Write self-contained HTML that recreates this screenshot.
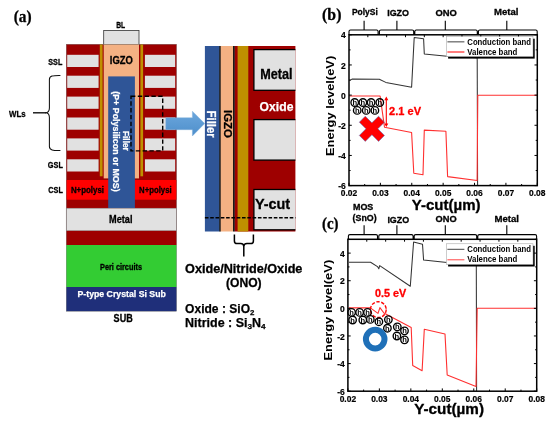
<!DOCTYPE html>
<html lang="en"><head><meta charset="utf-8"><title>Figure</title>
<style>html,body{margin:0;padding:0;background:#fff}svg{display:block}</style></head>
<body><svg width="550" height="422" viewBox="0 0 550 422">
<rect width="550" height="422" fill="#fff"/>
<rect x="66.20" y="44.20" width="110.40" height="200.80" fill="#9E0000" />
<rect x="103.70" y="30.50" width="35.30" height="13.90" fill="#E1E1E1" stroke="#333" stroke-width="0.8" />
<rect x="67.20" y="54.80" width="31.40" height="12.20" fill="#E1E1E1" />
<rect x="144.90" y="54.80" width="30.30" height="12.20" fill="#E1E1E1" />
<rect x="67.20" y="75.70" width="31.40" height="12.20" fill="#E1E1E1" />
<rect x="144.90" y="75.70" width="30.30" height="12.20" fill="#E1E1E1" />
<rect x="67.20" y="96.60" width="31.40" height="12.20" fill="#E1E1E1" />
<rect x="144.90" y="96.60" width="30.30" height="12.20" fill="#E1E1E1" />
<rect x="67.20" y="117.50" width="31.40" height="12.20" fill="#E1E1E1" />
<rect x="144.90" y="117.50" width="30.30" height="12.20" fill="#E1E1E1" />
<rect x="67.20" y="138.40" width="31.40" height="12.20" fill="#E1E1E1" />
<rect x="144.90" y="138.40" width="30.30" height="12.20" fill="#E1E1E1" />
<rect x="67.20" y="159.30" width="31.40" height="12.20" fill="#E1E1E1" />
<rect x="144.90" y="159.30" width="30.30" height="12.20" fill="#E1E1E1" />
<rect x="99.80" y="44.20" width="2.80" height="132.10" fill="#BF9000" />
<rect x="140.40" y="44.20" width="2.70" height="132.10" fill="#BF9000" />
<rect x="103.70" y="44.20" width="35.30" height="134.20" fill="#F4B183" />
<rect x="66.20" y="180.00" width="110.40" height="19.70" fill="#FF0000" />
<rect x="108.20" y="76.40" width="26.70" height="131.80" fill="#2F5597" />
<rect x="66.20" y="208.20" width="110.40" height="22.50" fill="#E1E1E1" stroke="#8a8a8a" stroke-width="0.5" />
<rect x="66.20" y="245.00" width="110.40" height="42.00" fill="#33CC33" />
<rect x="66.20" y="287.00" width="110.40" height="24.20" fill="#1F2F7A" />
<rect x="66.20" y="44.20" width="110.40" height="267.00" fill="none" stroke="#6b6b6b" stroke-width="0.4" />
<text x="13.70" y="22.40" font-family='"Liberation Serif", serif' font-size="16.60" font-weight="bold" fill="#000" textLength="17.90" lengthAdjust="spacingAndGlyphs"  stroke="#000" stroke-width="0.3" stroke-linejoin="round">(a)</text>
<text x="116.20" y="28.20" font-family='"Liberation Sans", sans-serif' font-size="8.78" font-weight="bold" fill="#000" textLength="9.00" lengthAdjust="spacingAndGlyphs"  stroke="#000" stroke-width="0.3" stroke-linejoin="round">BL</text>
<text x="48.30" y="65.00" font-family='"Liberation Sans", sans-serif' font-size="9.05" font-weight="bold" fill="#000" textLength="14.00" lengthAdjust="spacingAndGlyphs"  stroke="#000" stroke-width="0.3" stroke-linejoin="round">SSL</text>
<text x="109.80" y="64.20" font-family='"Liberation Sans", sans-serif' font-size="10.70" font-weight="bold" fill="#000" textLength="23.00" lengthAdjust="spacingAndGlyphs"  stroke="#000" stroke-width="0.3" stroke-linejoin="round">IGZO</text>
<text x="9.00" y="116.50" font-family='"Liberation Sans", sans-serif' font-size="9.47" font-weight="bold" fill="#000" textLength="16.60" lengthAdjust="spacingAndGlyphs"  stroke="#000" stroke-width="0.3" stroke-linejoin="round">WLs</text>
<text x="47.80" y="168.40" font-family='"Liberation Sans", sans-serif' font-size="9.05" font-weight="bold" fill="#000" textLength="15.10" lengthAdjust="spacingAndGlyphs"  stroke="#000" stroke-width="0.3" stroke-linejoin="round">GSL</text>
<text x="48.30" y="192.90" font-family='"Liberation Sans", sans-serif' font-size="9.05" font-weight="bold" fill="#000" textLength="14.60" lengthAdjust="spacingAndGlyphs"  stroke="#000" stroke-width="0.3" stroke-linejoin="round">CSL</text>
<text x="70.90" y="193.00" font-family='"Liberation Sans", sans-serif' font-size="8.78" font-weight="bold" fill="#000" textLength="33.10" lengthAdjust="spacingAndGlyphs"  stroke="#000" stroke-width="0.3" stroke-linejoin="round">N+polysi</text>
<text x="139.10" y="193.00" font-family='"Liberation Sans", sans-serif' font-size="8.78" font-weight="bold" fill="#000" textLength="32.50" lengthAdjust="spacingAndGlyphs"  stroke="#000" stroke-width="0.3" stroke-linejoin="round">N+polysi</text>
<text x="109.10" y="223.00" font-family='"Liberation Sans", sans-serif' font-size="10.43" font-weight="bold" fill="#000" textLength="23.40" lengthAdjust="spacingAndGlyphs"  stroke="#000" stroke-width="0.3" stroke-linejoin="round">Metal</text>
<text x="100.00" y="269.80" font-family='"Liberation Sans", sans-serif' font-size="8.50" font-weight="bold" fill="#000" textLength="42.00" lengthAdjust="spacingAndGlyphs"  stroke="#000" stroke-width="0.3" stroke-linejoin="round">Peri circuits</text>
<text x="77.50" y="297.40" font-family='"Liberation Sans", sans-serif' font-size="9.33" font-weight="bold" fill="#fff" textLength="88.30" lengthAdjust="spacingAndGlyphs"  stroke="#fff" stroke-width="0.25" stroke-linejoin="round">P-type Crystal Si Sub</text>
<text x="113.60" y="321.60" font-family='"Liberation Sans", sans-serif' font-size="10.43" font-weight="bold" fill="#000" textLength="19.10" lengthAdjust="spacingAndGlyphs"  stroke="#000" stroke-width="0.3" stroke-linejoin="round">SUB</text>
<text transform="translate(123.40,131.00) rotate(90)" x="0" y="0" font-family='"Liberation Sans", sans-serif' font-size="8.50" font-weight="bold" fill="#fff" stroke="#fff" stroke-width="0.25" textLength="19.80" lengthAdjust="spacingAndGlyphs">Filler</text>
<text transform="translate(112.70,91.20) rotate(90)" x="0" y="0" font-family='"Liberation Sans", sans-serif' font-size="8.78" font-weight="bold" fill="#fff" stroke="#fff" stroke-width="0.25" textLength="100.40" lengthAdjust="spacingAndGlyphs">(P+ Polysilicon or MOS)</text>
<path d="M33,112.8 H46" stroke="#111" stroke-width="1.4" fill="none"/>
<path d="M60.4,75.4 C54,75.6 49.4,75.4 49.4,79.5 V108 C49.4,111 47.5,112.8 45.2,112.8 C47.5,112.8 49.4,114.6 49.4,117.6 V146.5 C49.4,150.6 54,150.4 60.4,150.6" stroke="#111" stroke-width="1.05" fill="none"/>
<rect x="131" y="96.3" width="31.7" height="54.6" fill="none" stroke="#000" stroke-width="1.4" stroke-dasharray="4.4 2.4"/>
<linearGradient id="ag" x1="0" y1="0" x2="0" y2="1"><stop offset="0" stop-color="#6CA7DD"/><stop offset="1" stop-color="#4E8FCB"/></linearGradient>
<path d="M165.8,117.7 H192.4 V111.2 L204.7,123.6 L192.4,136 V129.7 H165.8 Z" fill="url(#ag)" stroke="#7FAEDB" stroke-width="0.4"/>
<rect x="204.90" y="46.00" width="14.70" height="185.50" fill="#2F5597" />
<rect x="219.30" y="46.00" width="1.60" height="185.50" fill="#000" />
<rect x="220.70" y="46.00" width="12.60" height="185.50" fill="#F4B183" />
<rect x="233.10" y="46.00" width="1.70" height="185.50" fill="#000" />
<rect x="234.80" y="46.00" width="60.60" height="185.50" fill="#9E0000" />
<rect x="237.60" y="46.00" width="10.70" height="185.50" fill="#BF9000" />
<clipPath id="pc"><rect x="204.9" y="46" width="90.5" height="185.5"/></clipPath>
<rect x="253.9" y="49.6" width="50" height="40.70" fill="#E1E1E1" stroke="#000" stroke-width="1.3" clip-path="url(#pc)"/>
<rect x="253.9" y="119.6" width="50" height="40.50" fill="#E1E1E1" stroke="#000" stroke-width="1.3" clip-path="url(#pc)"/>
<rect x="253.9" y="189.5" width="50" height="40.30" fill="#E1E1E1" stroke="#000" stroke-width="1.3" clip-path="url(#pc)"/>
<path d="M204.9,217.8 H295.4" stroke="#000" stroke-width="1.5" stroke-dasharray="3.6 1.7" fill="none"/>
<text x="260.30" y="78.90" font-family='"Liberation Sans", sans-serif' font-size="13.99" font-weight="bold" fill="#000" textLength="32.30" lengthAdjust="spacingAndGlyphs"  stroke="#000" stroke-width="0.3" stroke-linejoin="round">Metal</text>
<text x="259.60" y="111.40" font-family='"Liberation Sans", sans-serif' font-size="13.44" font-weight="bold" fill="#fff" textLength="33.80" lengthAdjust="spacingAndGlyphs"  stroke="#fff" stroke-width="0.25" stroke-linejoin="round">Oxide</text>
<text x="254.90" y="208.70" font-family='"Liberation Sans", sans-serif' font-size="14.95" font-weight="bold" fill="#000" textLength="35.30" lengthAdjust="spacingAndGlyphs"  stroke="#000" stroke-width="0.3" stroke-linejoin="round">Y-cut</text>
<text transform="translate(206.80,110.60) rotate(90)" x="0" y="0" font-family='"Liberation Sans", sans-serif' font-size="12.07" font-weight="bold" fill="#fff" stroke="#fff" stroke-width="0.25" textLength="27.10" lengthAdjust="spacingAndGlyphs">Filler</text>
<text transform="translate(223.50,110.00) rotate(90)" x="0" y="0" font-family='"Liberation Sans", sans-serif' font-size="11.80" font-weight="bold" fill="#000" stroke="#000" stroke-width="0.3" textLength="28.00" lengthAdjust="spacingAndGlyphs">IGZO</text>
<path d="M234.4,234.6 V241 Q234.4,243.6 237,243.6 H240.6 Q243.8,243.6 243.8,246.5 Q243.8,243.6 247,243.6 H250.8 Q253.4,243.6 253.4,241 V234.6 M243.8,245.5 V256.5" stroke="#000" stroke-width="1.5" fill="none"/>
<text x="185.10" y="272.80" font-family='"Liberation Sans", sans-serif' font-size="11.93" font-weight="bold" fill="#000" textLength="117.30" lengthAdjust="spacingAndGlyphs"  stroke="#000" stroke-width="0.3" stroke-linejoin="round">Oxide/Nitride/Oxide</text>
<text x="226.00" y="287.20" font-family='"Liberation Sans", sans-serif' font-size="12.35" font-weight="bold" fill="#000" textLength="35.60" lengthAdjust="spacingAndGlyphs"  stroke="#000" stroke-width="0.3" stroke-linejoin="round">(ONO)</text>
<text x="185.10" y="312.70" font-family='"Liberation Sans", sans-serif' font-size="12.21" font-weight="bold" fill="#000" textLength="69.30" lengthAdjust="spacingAndGlyphs"  stroke="#000" stroke-width="0.25" stroke-linejoin="round">Oxide : SiO<tspan font-size="8" dy="2">2</tspan></text>
<text x="185.10" y="327.20" font-family='"Liberation Sans", sans-serif' font-size="12.21" font-weight="bold" fill="#000" textLength="80.50" lengthAdjust="spacingAndGlyphs"  stroke="#000" stroke-width="0.25" stroke-linejoin="round">Nitride : Si<tspan font-size="8" dy="2">3</tspan><tspan dy="-2">N</tspan><tspan font-size="8" dy="2">4</tspan></text>
<polyline points="349.6,80.6 352.0,79.1 379.3,79.3 385.8,82.4 411.6,87.2 414.2,37.6 423.6,38.7 424.3,54.0 447.0,56.2 477.2,57.8 477.6,185.6" fill="none" stroke="#333" stroke-width="1.05" stroke-linejoin="round"/>
<polyline points="349.5,96.0 380.1,96.0 384.5,127.2 411.6,132.5 413.8,173.3 423.0,174.8 424.3,130.1 445.9,131.2 447.6,176.6 477.1,180.5 477.8,95.3 537.0,95.3" fill="none" stroke="#ff3030" stroke-width="1.1" stroke-linejoin="round"/>
<rect x="349.0" y="34.8" width="188.30" height="150.80" fill="none" stroke="#000" stroke-width="1.5"/>
<path d="M349.00,185.6 v-2.8 M364.69,185.6 v-1.6 M380.38,185.6 v-2.8 M396.07,185.6 v-1.6 M411.77,185.6 v-2.8 M427.46,185.6 v-1.6 M443.15,185.6 v-2.8 M458.84,185.6 v-1.6 M474.53,185.6 v-2.8 M490.22,185.6 v-1.6 M505.92,185.6 v-2.8 M521.61,185.6 v-1.6 M537.30,185.6 v-2.8 M367.83,34.8 v2.4 M386.66,34.8 v2.4 M405.49,34.8 v2.4 M424.32,34.8 v2.4 M443.15,34.8 v2.4 M461.98,34.8 v2.4 M480.81,34.8 v2.4 M499.64,34.8 v2.4 M518.47,34.8 v2.4 M349.0,185.60 h2.8 M537.3,185.60 h-2.8 M349.0,170.52 h1.6 M537.3,170.52 h-1.6 M349.0,155.44 h2.8 M537.3,155.44 h-2.8 M349.0,140.36 h1.6 M537.3,140.36 h-1.6 M349.0,125.28 h2.8 M537.3,125.28 h-2.8 M349.0,110.20 h1.6 M537.3,110.20 h-1.6 M349.0,95.12 h2.8 M537.3,95.12 h-2.8 M349.0,80.04 h1.6 M537.3,80.04 h-1.6 M349.0,64.96 h2.8 M537.3,64.96 h-2.8 M349.0,49.88 h1.6 M537.3,49.88 h-1.6 M349.0,34.80 h2.8 M537.3,34.80 h-2.8" stroke="#000" stroke-width="1" fill="none"/>
<text x="345.80" y="189.20" text-anchor="end" font-family='"Liberation Sans", sans-serif' font-size="8.5" font-weight="bold" fill="#000" stroke="#000" stroke-width="0.2">-6</text>
<text x="345.80" y="159.04" text-anchor="end" font-family='"Liberation Sans", sans-serif' font-size="8.5" font-weight="bold" fill="#000" stroke="#000" stroke-width="0.2">-4</text>
<text x="345.80" y="128.88" text-anchor="end" font-family='"Liberation Sans", sans-serif' font-size="8.5" font-weight="bold" fill="#000" stroke="#000" stroke-width="0.2">-2</text>
<text x="345.80" y="98.72" text-anchor="end" font-family='"Liberation Sans", sans-serif' font-size="8.5" font-weight="bold" fill="#000" stroke="#000" stroke-width="0.2">0</text>
<text x="345.80" y="68.56" text-anchor="end" font-family='"Liberation Sans", sans-serif' font-size="8.5" font-weight="bold" fill="#000" stroke="#000" stroke-width="0.2">2</text>
<text x="345.80" y="38.40" text-anchor="end" font-family='"Liberation Sans", sans-serif' font-size="8.5" font-weight="bold" fill="#000" stroke="#000" stroke-width="0.2">4</text>
<text x="349.00" y="196.40" text-anchor="middle" font-family='"Liberation Sans", sans-serif' font-size="8.5" font-weight="bold" fill="#000" stroke="#000" stroke-width="0.2" textLength="16.4" lengthAdjust="spacingAndGlyphs">0.02</text>
<text x="380.38" y="196.40" text-anchor="middle" font-family='"Liberation Sans", sans-serif' font-size="8.5" font-weight="bold" fill="#000" stroke="#000" stroke-width="0.2" textLength="16.4" lengthAdjust="spacingAndGlyphs">0.03</text>
<text x="411.77" y="196.40" text-anchor="middle" font-family='"Liberation Sans", sans-serif' font-size="8.5" font-weight="bold" fill="#000" stroke="#000" stroke-width="0.2" textLength="16.4" lengthAdjust="spacingAndGlyphs">0.04</text>
<text x="443.15" y="196.40" text-anchor="middle" font-family='"Liberation Sans", sans-serif' font-size="8.5" font-weight="bold" fill="#000" stroke="#000" stroke-width="0.2" textLength="16.4" lengthAdjust="spacingAndGlyphs">0.05</text>
<text x="474.53" y="196.40" text-anchor="middle" font-family='"Liberation Sans", sans-serif' font-size="8.5" font-weight="bold" fill="#000" stroke="#000" stroke-width="0.2" textLength="16.4" lengthAdjust="spacingAndGlyphs">0.06</text>
<text x="505.92" y="196.40" text-anchor="middle" font-family='"Liberation Sans", sans-serif' font-size="8.5" font-weight="bold" fill="#000" stroke="#000" stroke-width="0.2" textLength="16.4" lengthAdjust="spacingAndGlyphs">0.07</text>
<text x="537.30" y="196.40" text-anchor="middle" font-family='"Liberation Sans", sans-serif' font-size="8.5" font-weight="bold" fill="#000" stroke="#000" stroke-width="0.2" textLength="16.4" lengthAdjust="spacingAndGlyphs">0.08</text>
<polyline points="349.0,262.3 370.6,262.3 377.5,266.6 378.8,268.8 379.7,265.6 410.3,286.3 413.6,242.0 422.5,244.2 423.6,260.1 444.7,262.2 476.3,265.4 476.6,391.0" fill="none" stroke="#333" stroke-width="1.05" stroke-linejoin="round"/>
<polyline points="349.0,307.9 370.3,307.9 378.0,313.4 379.9,307.6 383.9,313.0 411.2,327.6 412.7,365.6 422.1,370.7 424.3,329.2 445.0,334.0 447.2,375.0 476.0,386.4 477.2,308.3 537.0,308.3" fill="none" stroke="#ff3030" stroke-width="1.1" stroke-linejoin="round"/>
<rect x="347.9" y="239.3" width="188.80" height="151.90" fill="none" stroke="#000" stroke-width="1.5"/>
<path d="M347.90,391.2 v-2.8 M363.63,391.2 v-1.6 M379.37,391.2 v-2.8 M395.10,391.2 v-1.6 M410.83,391.2 v-2.8 M426.57,391.2 v-1.6 M442.30,391.2 v-2.8 M458.03,391.2 v-1.6 M473.77,391.2 v-2.8 M489.50,391.2 v-1.6 M505.23,391.2 v-2.8 M520.97,391.2 v-1.6 M536.70,391.2 v-2.8 M366.78,239.3 v2.4 M385.66,239.3 v2.4 M404.54,239.3 v2.4 M423.42,239.3 v2.4 M442.30,239.3 v2.4 M461.18,239.3 v2.4 M480.06,239.3 v2.4 M498.94,239.3 v2.4 M517.82,239.3 v2.4 M347.9,391.20 h2.8 M536.7,391.20 h-2.8 M347.9,377.39 h1.6 M536.7,377.39 h-1.6 M347.9,363.58 h2.8 M536.7,363.58 h-2.8 M347.9,349.77 h1.6 M536.7,349.77 h-1.6 M347.9,335.96 h2.8 M536.7,335.96 h-2.8 M347.9,322.15 h1.6 M536.7,322.15 h-1.6 M347.9,308.35 h2.8 M536.7,308.35 h-2.8 M347.9,294.54 h1.6 M536.7,294.54 h-1.6 M347.9,280.73 h2.8 M536.7,280.73 h-2.8 M347.9,266.92 h1.6 M536.7,266.92 h-1.6 M347.9,253.11 h2.8 M536.7,253.11 h-2.8 M347.9,239.30 h1.6 M536.7,239.30 h-1.6" stroke="#000" stroke-width="1" fill="none"/>
<text x="344.70" y="394.80" text-anchor="end" font-family='"Liberation Sans", sans-serif' font-size="8.5" font-weight="bold" fill="#000" stroke="#000" stroke-width="0.2">-6</text>
<text x="344.70" y="367.18" text-anchor="end" font-family='"Liberation Sans", sans-serif' font-size="8.5" font-weight="bold" fill="#000" stroke="#000" stroke-width="0.2">-4</text>
<text x="344.70" y="339.56" text-anchor="end" font-family='"Liberation Sans", sans-serif' font-size="8.5" font-weight="bold" fill="#000" stroke="#000" stroke-width="0.2">-2</text>
<text x="344.70" y="311.95" text-anchor="end" font-family='"Liberation Sans", sans-serif' font-size="8.5" font-weight="bold" fill="#000" stroke="#000" stroke-width="0.2">0</text>
<text x="344.70" y="284.33" text-anchor="end" font-family='"Liberation Sans", sans-serif' font-size="8.5" font-weight="bold" fill="#000" stroke="#000" stroke-width="0.2">2</text>
<text x="344.70" y="256.71" text-anchor="end" font-family='"Liberation Sans", sans-serif' font-size="8.5" font-weight="bold" fill="#000" stroke="#000" stroke-width="0.2">4</text>
<text x="347.90" y="401.70" text-anchor="middle" font-family='"Liberation Sans", sans-serif' font-size="8.5" font-weight="bold" fill="#000" stroke="#000" stroke-width="0.2" textLength="16.4" lengthAdjust="spacingAndGlyphs">0.02</text>
<text x="379.37" y="401.70" text-anchor="middle" font-family='"Liberation Sans", sans-serif' font-size="8.5" font-weight="bold" fill="#000" stroke="#000" stroke-width="0.2" textLength="16.4" lengthAdjust="spacingAndGlyphs">0.03</text>
<text x="410.83" y="401.70" text-anchor="middle" font-family='"Liberation Sans", sans-serif' font-size="8.5" font-weight="bold" fill="#000" stroke="#000" stroke-width="0.2" textLength="16.4" lengthAdjust="spacingAndGlyphs">0.04</text>
<text x="442.30" y="401.70" text-anchor="middle" font-family='"Liberation Sans", sans-serif' font-size="8.5" font-weight="bold" fill="#000" stroke="#000" stroke-width="0.2" textLength="16.4" lengthAdjust="spacingAndGlyphs">0.05</text>
<text x="473.77" y="401.70" text-anchor="middle" font-family='"Liberation Sans", sans-serif' font-size="8.5" font-weight="bold" fill="#000" stroke="#000" stroke-width="0.2" textLength="16.4" lengthAdjust="spacingAndGlyphs">0.06</text>
<text x="505.23" y="401.70" text-anchor="middle" font-family='"Liberation Sans", sans-serif' font-size="8.5" font-weight="bold" fill="#000" stroke="#000" stroke-width="0.2" textLength="16.4" lengthAdjust="spacingAndGlyphs">0.07</text>
<text x="536.70" y="401.70" text-anchor="middle" font-family='"Liberation Sans", sans-serif' font-size="8.5" font-weight="bold" fill="#000" stroke="#000" stroke-width="0.2" textLength="16.4" lengthAdjust="spacingAndGlyphs">0.08</text>
<rect x="448.10" y="38.70" width="86.60" height="19.90" fill="#000" />
<rect x="446.30" y="36.70" width="86.70" height="19.90" fill="#fff" stroke="#9a9a9a" stroke-width="0.5" />
<path d="M447.4,41.80 H464.4" stroke="#777" stroke-width="1.4"/>
<path d="M447.4,52.00 H464.4" stroke="#ff4545" stroke-width="1.4"/>
<text x="467.30" y="44.90" font-family='"Liberation Sans", sans-serif' font-size="8.50" font-weight="bold" fill="#000" textLength="63.70" lengthAdjust="spacingAndGlyphs" >Conduction band</text>
<text x="467.30" y="54.50" font-family='"Liberation Sans", sans-serif' font-size="8.50" font-weight="bold" fill="#000" textLength="50.00" lengthAdjust="spacingAndGlyphs" >Valence band</text>
<rect x="448.10" y="245.80" width="86.60" height="20.70" fill="#000" />
<rect x="446.30" y="243.80" width="86.70" height="20.70" fill="#fff" stroke="#9a9a9a" stroke-width="0.5" />
<path d="M447.4,249.30 H464.4" stroke="#444" stroke-width="1.0"/>
<path d="M447.4,259.80 H464.4" stroke="#ff4545" stroke-width="1.0"/>
<text x="467.30" y="252.10" font-family='"Liberation Sans", sans-serif' font-size="8.50" font-weight="bold" fill="#000" textLength="63.70" lengthAdjust="spacingAndGlyphs" >Conduction band</text>
<text x="467.30" y="262.40" font-family='"Liberation Sans", sans-serif' font-size="8.50" font-weight="bold" fill="#000" textLength="50.00" lengthAdjust="spacingAndGlyphs" >Valence band</text>
<path d="M349.0,34.8 V31.5 Q349.0,30.0 350.5,30.0 H376.6 Q378.1,30.0 378.1,31.5 V34.8 M364.1,30.0 V20.7 M379.4,34.8 V31.5 Q379.4,30.0 380.9,30.0 H412.2 Q413.7,30.0 413.7,31.5 V34.8 M396.9,30.0 V20.7 M414.8,34.8 V31.5 Q414.8,30.0 416.3,30.0 H475.8 Q477.3,30.0 477.3,31.5 V34.8 M445.3,30.0 V20.7 M478.4,34.8 V31.5 Q478.4,30.0 479.9,30.0 H535.7 Q537.2,30.0 537.2,31.5 V34.8 M506.8,30.0 V20.7" stroke="#000" stroke-width="1.1" fill="none"/>
<path d="M348.4,239.3 V236.1 Q348.4,234.6 349.9,234.6 H376.0 Q377.5,234.6 377.5,236.1 V239.3 M364.1,234.6 V225.2 M378.8,239.3 V236.1 Q378.8,234.6 380.3,234.6 H411.6 Q413.1,234.6 413.1,236.1 V239.3 M396.9,234.6 V225.2 M414.2,239.3 V236.1 Q414.2,234.6 415.7,234.6 H475.2 Q476.7,234.6 476.7,236.1 V239.3 M445.3,234.6 V225.2 M477.8,239.3 V236.1 Q477.8,234.6 479.3,234.6 H535.1 Q536.6,234.6 536.6,236.1 V239.3 M506.8,234.6 V225.2" stroke="#000" stroke-width="1.1" fill="none"/>
<text x="351.90" y="14.50" font-family='"Liberation Sans", sans-serif' font-size="9.47" font-weight="bold" fill="#000" textLength="25.90" lengthAdjust="spacingAndGlyphs"  stroke="#000" stroke-width="0.3" stroke-linejoin="round">PolySi</text>
<text x="387.20" y="16.10" font-family='"Liberation Sans", sans-serif' font-size="9.19" font-weight="bold" fill="#000" textLength="21.80" lengthAdjust="spacingAndGlyphs"  stroke="#000" stroke-width="0.3" stroke-linejoin="round">IGZO</text>
<text x="435.50" y="16.00" font-family='"Liberation Sans", sans-serif' font-size="8.92" font-weight="bold" fill="#000" textLength="21.40" lengthAdjust="spacingAndGlyphs"  stroke="#000" stroke-width="0.3" stroke-linejoin="round">ONO</text>
<text x="494.00" y="15.40" font-family='"Liberation Sans", sans-serif' font-size="9.88" font-weight="bold" fill="#000" textLength="24.50" lengthAdjust="spacingAndGlyphs"  stroke="#000" stroke-width="0.3" stroke-linejoin="round">Metal</text>
<text x="353.00" y="209.90" font-family='"Liberation Sans", sans-serif' font-size="8.64" font-weight="bold" fill="#000" textLength="20.30" lengthAdjust="spacingAndGlyphs"  stroke="#000" stroke-width="0.3" stroke-linejoin="round">MOS</text>
<text x="352.60" y="221.00" font-family='"Liberation Sans", sans-serif' font-size="8.80" font-weight="bold" fill="#000" textLength="24.00" lengthAdjust="spacingAndGlyphs"  stroke="#000" stroke-width="0.3" stroke-linejoin="round">(SnO)</text>
<text x="387.40" y="223.20" font-family='"Liberation Sans", sans-serif' font-size="9.05" font-weight="bold" fill="#000" textLength="21.80" lengthAdjust="spacingAndGlyphs"  stroke="#000" stroke-width="0.3" stroke-linejoin="round">IGZO</text>
<text x="435.50" y="221.90" font-family='"Liberation Sans", sans-serif' font-size="8.64" font-weight="bold" fill="#000" textLength="21.10" lengthAdjust="spacingAndGlyphs"  stroke="#000" stroke-width="0.3" stroke-linejoin="round">ONO</text>
<text x="494.50" y="222.20" font-family='"Liberation Sans", sans-serif' font-size="9.33" font-weight="bold" fill="#000" textLength="24.50" lengthAdjust="spacingAndGlyphs"  stroke="#000" stroke-width="0.3" stroke-linejoin="round">Metal</text>
<text x="322.10" y="20.30" font-family='"Liberation Serif", serif' font-size="16.50" font-weight="bold" fill="#000" textLength="19.30" lengthAdjust="spacingAndGlyphs"  stroke="#000" stroke-width="0.3" stroke-linejoin="round">(b)</text>
<text x="322.00" y="229.40" font-family='"Liberation Serif", serif' font-size="16.50" font-weight="bold" fill="#000" textLength="16.60" lengthAdjust="spacingAndGlyphs"  stroke="#000" stroke-width="0.3" stroke-linejoin="round">(c)</text>
<text x="411.80" y="210.20" font-family='"Liberation Sans", sans-serif' font-size="14.13" font-weight="bold" fill="#000" textLength="68.70" lengthAdjust="spacingAndGlyphs"  stroke="#000" stroke-width="0.3" stroke-linejoin="round">Y-cut(µm)</text>
<text x="414.20" y="413.60" font-family='"Liberation Sans", sans-serif' font-size="13.99" font-weight="bold" fill="#000" textLength="69.80" lengthAdjust="spacingAndGlyphs"  stroke="#000" stroke-width="0.3" stroke-linejoin="round">Y-cut(µm)</text>
<text transform="translate(333.70,156.00) rotate(-90)" x="0" y="0" font-family='"Liberation Sans", sans-serif' font-size="10.97" font-weight="bold" fill="#000" stroke="#000" stroke-width="0.0" textLength="100.20" lengthAdjust="spacingAndGlyphs">Energy level(eV)</text>
<text transform="translate(332.20,360.60) rotate(-90)" x="0" y="0" font-family='"Liberation Sans", sans-serif' font-size="11.52" font-weight="bold" fill="#000" stroke="#000" stroke-width="0.0" textLength="100.80" lengthAdjust="spacingAndGlyphs">Energy level(eV)</text>
<circle cx="354.7" cy="102.5" r="3.75" fill="none" stroke="#000" stroke-width="1.35"/>
<text x="354.7" y="105.1" text-anchor="middle" font-family='"Liberation Sans", sans-serif' font-size="7.6" font-weight="bold" fill="#000">h</text>
<circle cx="362.9" cy="102.5" r="3.75" fill="none" stroke="#000" stroke-width="1.35"/>
<text x="362.9" y="105.1" text-anchor="middle" font-family='"Liberation Sans", sans-serif' font-size="7.6" font-weight="bold" fill="#000">h</text>
<circle cx="371.1" cy="102.5" r="3.75" fill="none" stroke="#000" stroke-width="1.35"/>
<text x="371.1" y="105.1" text-anchor="middle" font-family='"Liberation Sans", sans-serif' font-size="7.6" font-weight="bold" fill="#000">h</text>
<circle cx="379.8" cy="102.5" r="3.75" fill="none" stroke="#000" stroke-width="1.35"/>
<text x="379.8" y="105.1" text-anchor="middle" font-family='"Liberation Sans", sans-serif' font-size="7.6" font-weight="bold" fill="#000">h</text>
<circle cx="357.2" cy="110.4" r="3.75" fill="none" stroke="#000" stroke-width="1.35"/>
<text x="357.2" y="113.0" text-anchor="middle" font-family='"Liberation Sans", sans-serif' font-size="7.6" font-weight="bold" fill="#000">h</text>
<circle cx="366.2" cy="110.4" r="3.75" fill="none" stroke="#000" stroke-width="1.35"/>
<text x="366.2" y="113.0" text-anchor="middle" font-family='"Liberation Sans", sans-serif' font-size="7.6" font-weight="bold" fill="#000">h</text>
<circle cx="374.9" cy="110.4" r="3.75" fill="none" stroke="#000" stroke-width="1.35"/>
<text x="374.9" y="113.0" text-anchor="middle" font-family='"Liberation Sans", sans-serif' font-size="7.6" font-weight="bold" fill="#000">h</text>
<g transform="translate(371.9,128.8) rotate(45)"><path d="M-4.2,-13.6 H4.2 V-4.2 H13.6 V4.2 H4.2 V13.6 H-4.2 V4.2 H-13.6 V-4.2 H-4.2 Z" fill="#FF0000" stroke="#4472C4" stroke-width="0.5"/></g>
<path d="M386.3,98.5 V125.2" stroke="#ff0000" stroke-width="1.1"/>
<path d="M386.3,96.6 l-2,3.6 h4 Z M386.3,127 l-2,-3.6 h4 Z" fill="#ff0000"/>
<text x="389.10" y="114.50" font-family='"Liberation Sans", sans-serif' font-size="10.84" font-weight="bold" fill="#ff0000" textLength="31.90" lengthAdjust="spacingAndGlyphs"  stroke="#ff0000" stroke-width="0.3" stroke-linejoin="round">2.1 eV</text>
<circle cx="378.3" cy="309.6" r="7.9" fill="none" stroke="#ff0000" stroke-width="1.4" stroke-dasharray="3.4 1.6"/>
<circle cx="351.6" cy="312.4" r="3.75" fill="none" stroke="#000" stroke-width="1.35"/>
<text x="351.6" y="315.0" text-anchor="middle" font-family='"Liberation Sans", sans-serif' font-size="7.6" font-weight="bold" fill="#000">h</text>
<circle cx="359.6" cy="312.4" r="3.75" fill="none" stroke="#000" stroke-width="1.35"/>
<text x="359.6" y="315.0" text-anchor="middle" font-family='"Liberation Sans", sans-serif' font-size="7.6" font-weight="bold" fill="#000">h</text>
<circle cx="367.5" cy="312.4" r="3.75" fill="none" stroke="#000" stroke-width="1.35"/>
<text x="367.5" y="315.0" text-anchor="middle" font-family='"Liberation Sans", sans-serif' font-size="7.6" font-weight="bold" fill="#000">h</text>
<circle cx="352.6" cy="320.0" r="3.75" fill="none" stroke="#000" stroke-width="1.35"/>
<text x="352.6" y="322.6" text-anchor="middle" font-family='"Liberation Sans", sans-serif' font-size="7.6" font-weight="bold" fill="#000">h</text>
<circle cx="362.8" cy="320.0" r="3.75" fill="none" stroke="#000" stroke-width="1.35"/>
<text x="362.8" y="322.6" text-anchor="middle" font-family='"Liberation Sans", sans-serif' font-size="7.6" font-weight="bold" fill="#000">h</text>
<circle cx="370.3" cy="319.4" r="3.75" fill="none" stroke="#000" stroke-width="1.35"/>
<text x="370.3" y="322.0" text-anchor="middle" font-family='"Liberation Sans", sans-serif' font-size="7.6" font-weight="bold" fill="#000">h</text>
<circle cx="378.9" cy="321.7" r="3.75" fill="none" stroke="#000" stroke-width="1.35"/>
<text x="378.9" y="324.3" text-anchor="middle" font-family='"Liberation Sans", sans-serif' font-size="7.6" font-weight="bold" fill="#000">h</text>
<circle cx="388.4" cy="319.6" r="3.75" fill="none" stroke="#000" stroke-width="1.35"/>
<text x="388.4" y="322.2" text-anchor="middle" font-family='"Liberation Sans", sans-serif' font-size="7.6" font-weight="bold" fill="#000">h</text>
<circle cx="387.4" cy="328.2" r="3.75" fill="none" stroke="#000" stroke-width="1.35"/>
<text x="387.4" y="330.8" text-anchor="middle" font-family='"Liberation Sans", sans-serif' font-size="7.6" font-weight="bold" fill="#000">h</text>
<circle cx="397.3" cy="326.8" r="3.75" fill="none" stroke="#000" stroke-width="1.35"/>
<text x="397.3" y="329.4" text-anchor="middle" font-family='"Liberation Sans", sans-serif' font-size="7.6" font-weight="bold" fill="#000">h</text>
<circle cx="404.5" cy="330.8" r="3.75" fill="none" stroke="#000" stroke-width="1.35"/>
<text x="404.5" y="333.4" text-anchor="middle" font-family='"Liberation Sans", sans-serif' font-size="7.6" font-weight="bold" fill="#000">h</text>
<circle cx="396.9" cy="336.0" r="3.75" fill="none" stroke="#000" stroke-width="1.35"/>
<text x="396.9" y="338.6" text-anchor="middle" font-family='"Liberation Sans", sans-serif' font-size="7.6" font-weight="bold" fill="#000">h</text>
<circle cx="404.5" cy="339.8" r="3.75" fill="none" stroke="#000" stroke-width="1.35"/>
<text x="404.5" y="342.4" text-anchor="middle" font-family='"Liberation Sans", sans-serif' font-size="7.6" font-weight="bold" fill="#000">h</text>
<circle cx="375.2" cy="339.1" r="9.3" fill="none" stroke="#1F70B8" stroke-width="6"/>
<text x="374.90" y="297.00" font-family='"Liberation Sans", sans-serif' font-size="10.43" font-weight="bold" fill="#ff0000" textLength="31.30" lengthAdjust="spacingAndGlyphs"  stroke="#ff0000" stroke-width="0.3" stroke-linejoin="round">0.5 eV</text>
</svg></body></html>
